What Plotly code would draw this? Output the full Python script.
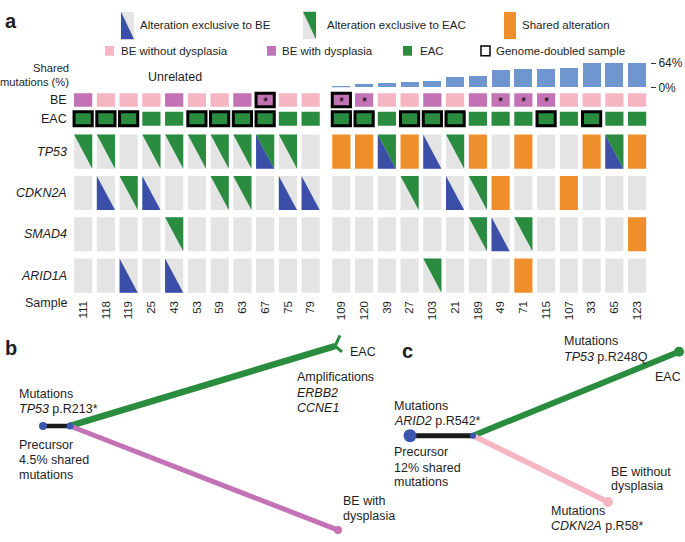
import plotly.graph_objects as go

W, H = 685, 542

# ---------------- data ----------------
samples_unrelated = ["111", "118", "119", "25", "43", "53", "59", "63", "67", "75", "79"]
samples_related = ["109", "120", "39", "27", "103", "21", "189", "49", "71", "115", "107", "33", "65", "123"]
shared_pct_related = [4.5, 10, 12, 15, 17, 27, 29, 46, 47, 49, 52, 64, 64, 64]

# BE type: D = with dysplasia, N = without dysplasia
be_type = ["D", "N", "N", "N", "D", "N", "N", "D", "D", "N", "N",
           "D", "D", "N", "N", "D", "N", "D", "D", "D", "D", "N", "N", "N", "N"]
be_star = ["67", "109", "120", "49", "71", "115"]
be_doubled = ["67", "109"]
eac_doubled = ["111", "118", "119", "53", "59", "63", "67",
               "109", "120", "27", "103", "21", "115", "33"]

genes = ["TP53", "CDKN2A", "SMAD4", "ARID1A"]
# E = exclusive to EAC, B = exclusive to BE, X = both exclusive, S = shared, "" = none
tp53 = ["E", "E", "", "E", "E", "E", "E", "E", "X", "E", "",
        "S", "S", "X", "S", "B", "E", "S", "", "S", "", "", "S", "X", "S"]
cdkn2a = ["", "B", "E", "B", "", "", "E", "E", "", "B", "B",
          "", "", "", "E", "", "B", "E", "S", "", "", "S", "", "", ""]
smad4 = ["", "", "", "", "E", "", "", "", "", "", "",
         "", "", "", "", "", "", "E", "B", "E", "", "", "", "", "S"]
arid1a = ["", "", "B", "", "B", "", "", "", "", "", "",
          "", "", "", "", "E", "", "", "", "S", "", "", "", "", ""]
gene_calls = [tp53, cdkn2a, smad4, arid1a]

# phylogenetic trees (arbitrary units 0-100)
tree_b_x = [10.75, 17.5, 83.75, 84.5]   # root, split, EAC, BE
tree_b_y = [52.8, 52.8, 91.5, 2.4]
tree_b_twig_x = [85.0, 83.75, 85.5]
tree_b_twig_y = [96.7, 91.5, 88.7]
tree_c_x = [8.33, 29.33, 98.0, 74.33]  # root, split, EAC, BE
tree_c_y = [48.1, 48.1, 88.7, 16.0]

# ---------------- styling ----------------
PINK = "#f5b5c3"
PURPLE = "#c372b5"
GREEN = "#2a8c3f"
BLUE = "#3b4fa8"
ORANGE = "#ef8f2b"
GRAY = "#e4e4e4"
BARBLUE = "#7096d0"
TXT = "#1e1e1e"
FONT = "Liberation Sans"

def px(x):
    return x / W

def py(y):
    return 1 - y / H

samples = samples_unrelated + samples_related
gap = 0.35
slots = [i for i in range(len(samples_unrelated))] + \
        [len(samples_unrelated) + gap + j for j in range(len(samples_related))]
hw = 0.4

# row geometry (pixel units on main y axis)
be_row = (88.5, 102.5)
eac_row = (107.5, 122)
gene_top, gene_h, gene_pitch = 131, 35, 42.4

shapes = []
annos = []

def rect(x0, x1, y0, y1, color, line=None):
    d = dict(type="rect", xref="x", yref="y", x0=x0, x1=x1, y0=y0, y1=y1,
             fillcolor=color, layer="above")
    d["line"] = line if line else dict(width=0)
    shapes.append(d)

def tri(pts, color, xref="x", yref="y"):
    path = "M " + " L ".join(f"{a},{b}" for a, b in pts) + " Z"
    shapes.append(dict(type="path", path=path, xref=xref, yref=yref,
                       fillcolor=color, line=dict(width=0), layer="above"))

for i, s in enumerate(samples):
    xc = slots[i]
    x0, x1 = xc - hw, xc + hw
    # BE row
    col = PURPLE if be_type[i] == "D" else PINK
    if s in be_doubled:
        rect(x0, x1, be_row[0], be_row[1], col, dict(color="black", width=3))
    else:
        rect(x0, x1, be_row[0], be_row[1], col)
    if s in be_star:
        annos.append(dict(x=xc, y=(be_row[0] + be_row[1]) / 2 + 1.5, xref="x", yref="y",
                          text="*", showarrow=False, font=dict(size=13, color="black", family=FONT)))
    # EAC row
    if s in eac_doubled:
        rect(x0, x1, eac_row[0], eac_row[1], GREEN, dict(color="black", width=3))
    else:
        rect(x0, x1, eac_row[0], eac_row[1], GREEN)
    # gene rows
    for g, calls in enumerate(gene_calls):
        y0 = gene_top + g * gene_pitch
        y1 = y0 + gene_h
        c = calls[i]
        if c == "S":
            rect(x0, x1, y0, y1, ORANGE)
            continue
        rect(x0, x1, y0, y1, GRAY)
        if c in ("B", "X"):
            tri([(x0, y0), (x0, y1), (x1, y1)], BLUE)
        if c in ("E", "X"):
            tri([(x0, y0), (x1, y0), (x1, y1)], GREEN)

fig = go.Figure()

# shared mutation bars
fig.add_trace(go.Bar(x=slots[len(samples_unrelated):], y=shared_pct_related,
                     width=2 * hw, marker=dict(color=BARBLUE, line=dict(width=0)),
                     xaxis="x", yaxis="y2", showlegend=False, hoverinfo="skip"))

# invisible trace to anchor main axes
fig.add_trace(go.Scatter(x=slots, y=[0] * len(slots), mode="markers",
                         marker=dict(opacity=0), xaxis="x", yaxis="y",
                         showlegend=False, hoverinfo="skip"))

def line_trace(xs, ys, color, width, xa, ya):
    fig.add_trace(go.Scatter(x=xs, y=ys, mode="lines", line=dict(color=color, width=width),
                             xaxis=xa, yaxis=ya, showlegend=False, hoverinfo="skip"))

def dot_trace(x, y, color, size, xa, ya):
    fig.add_trace(go.Scatter(x=[x], y=[y], mode="markers",
                             marker=dict(color=color, size=size, line=dict(width=0)),
                             xaxis=xa, yaxis=ya, showlegend=False, hoverinfo="skip"))

# ---- tree b ----
line_trace([tree_b_x[1], tree_b_x[2]], [tree_b_y[1], tree_b_y[2]], GREEN, 6.5, "x3", "y3")
line_trace(tree_b_twig_x, tree_b_twig_y, GREEN, 3, "x3", "y3")
line_trace([tree_b_x[1], tree_b_x[3]], [tree_b_y[1], tree_b_y[3]], PURPLE, 5, "x3", "y3")
line_trace([tree_b_x[0], tree_b_x[1]], [tree_b_y[0], tree_b_y[1]], "#1a1a1a", 4.5, "x3", "y3")
dot_trace(tree_b_x[0], tree_b_y[0], "#3a55b0", 8, "x3", "y3")
dot_trace(tree_b_x[1], tree_b_y[1], "#3a55b0", 7, "x3", "y3")
dot_trace(tree_b_x[3], tree_b_y[3], PURPLE, 8, "x3", "y3")

# ---- tree c ----
line_trace([tree_c_x[1], tree_c_x[2]], [tree_c_y[1], tree_c_y[2]], GREEN, 6, "x4", "y4")
line_trace([tree_c_x[1], tree_c_x[3]], [tree_c_y[1], tree_c_y[3]], PINK, 5.5, "x4", "y4")
line_trace([tree_c_x[0], tree_c_x[1]], [tree_c_y[0], tree_c_y[1]], "#1a1a1a", 5, "x4", "y4")
dot_trace(tree_c_x[0], tree_c_y[0], "#3a55b0", 13, "x4", "y4")
dot_trace(tree_c_x[1], tree_c_y[1], "#3a55b0", 6, "x4", "y4")
dot_trace(tree_c_x[2], tree_c_y[2], GREEN, 10, "x4", "y4")
dot_trace(tree_c_x[3], tree_c_y[3], PINK, 10, "x4", "y4")

# ---------------- legend (panel a) ----------------
def ptri(pts, color):
    path = "M " + " L ".join(f"{px(a)},{py(b)}" for a, b in pts) + " Z"
    shapes.append(dict(type="path", path=path, xref="paper", yref="paper",
                       fillcolor=color, line=dict(width=0)))

def prect(x0, x1, y0, y1, color, line=None):
    shapes.append(dict(type="rect", xref="paper", yref="paper", x0=px(x0), x1=px(x1),
                       y0=py(y1), y1=py(y0), fillcolor=color,
                       line=line if line else dict(width=0)))

# row 1
prect(121, 134, 5, 33, GRAY)
ptri([(121, 5), (121, 33), (134, 33)], BLUE)
prect(303, 316, 5, 33, GRAY)
ptri([(303, 5), (316, 5), (316, 33)], GREEN)
prect(504, 516, 5, 33, ORANGE)
# row 2
prect(105, 114, 40, 50, PINK)
prect(267, 276, 40, 50, PURPLE)
prect(403, 412, 40, 50, GREEN)
prect(481, 490, 40, 50, "white", dict(color="black", width=1.5))

def txt(x, y, text, size=12, anchor="left", bold=False, yanchor="middle"):
    if bold:
        text = f"<b>{text}</b>"
    annos.append(dict(x=px(x), y=py(y), xref="paper", yref="paper", text=text,
                      showarrow=False, xanchor=anchor, yanchor=yanchor,
                      font=dict(size=size, color=TXT, family=FONT)))

txt(138, 18, "Alteration exclusive to BE", 11.5)
txt(325, 18, "Alteration exclusive to EAC", 11.5)
txt(520, 18, "Shared alteration", 11.5)
txt(119, 45, "BE without dysplasia", 11.5)
txt(280, 45, "BE with dysplasia", 11.5)
txt(418, 45, "EAC", 11.5)
txt(494, 45, "Genome-doubled sample", 11.5)

txt(3, 14, "a", 20, bold=True)
txt(71, 63, "Shared", 11.2, anchor="right")
txt(71, 77, "mutations (%)", 11.2, anchor="right")
txt(175, 72, "Unrelated", 12.5, anchor="center")
txt(69, 95.5, "BE", 12.5, anchor="right")
txt(69, 115, "EAC", 12.5, anchor="right")
for g, name in enumerate(genes):
    txt(69, gene_top + g * gene_pitch + gene_h / 2, f"<i>{name}</i>", 12.5, anchor="right")
txt(69, 304, "Sample", 12.5, anchor="right")

# panel b text
txt(3, 350, "b", 20, bold=True)
txt(17, 397, "Mutations", 12.5)
txt(17, 413, "<i>TP53</i> p.R213*", 12.5)
txt(17, 450, "Precursor", 12.5)
txt(17, 465, "4.5% shared", 12.5)
txt(17, 480, "mutations", 12.5)
txt(348, 354, "EAC", 12.5)
txt(295, 380, "Amplifications", 12.5)
txt(295, 396, "<i>ERBB2</i>", 12.5)
txt(295, 412, "<i>CCNE1</i>", 12.5)
txt(341, 507, "BE with", 12.5)
txt(341, 522, "dysplasia", 12.5)

# panel c text
txt(400, 353, "c", 20, bold=True)
txt(392, 410, "Mutations", 12.5)
txt(392, 425, "<i>ARID2</i> p.R542*", 12.5)
txt(392, 457, "Precursor", 12.5)
txt(392, 473, "12% shared", 12.5)
txt(392, 488, "mutations", 12.5)
txt(562, 343, "Mutations", 12.5)
txt(562, 359, "<i>TP53</i> p.R248Q", 12.5)
txt(653, 380, "EAC", 12.5)
txt(609, 477, "BE without", 12.5)
txt(609, 492, "dysplasia", 12.5)
txt(549, 517, "Mutations", 12.5)
txt(549, 533, "<i>CDKN2A</i> p.R58*", 12.5)

x0r = -(83.15 / 22.75)
x1r = x0r + W / 22.75
hidden = dict(visible=False, showgrid=False, zeroline=False, fixedrange=True)

fig.update_layout(
    width=W, height=H, margin=dict(l=0, r=0, t=0, b=0),
    paper_bgcolor="white", plot_bgcolor="rgba(0,0,0,0)",
    font=dict(family=FONT, color=TXT),
    showlegend=False, bargap=0,
    shapes=shapes, annotations=annos,
    xaxis=dict(domain=[0, 1], range=[x0r, x1r], tickmode="array", tickvals=slots,
               ticktext=samples, tickangle=-90, ticks="outside", ticklen=2,
               tickcolor="rgba(0,0,0,0)", showgrid=False, zeroline=False, showline=False,
               tickfont=dict(size=11.5, color=TXT, family=FONT), anchor="y"),
    yaxis=dict(domain=[py(294), 1], range=[294, 0], **hidden),
    yaxis2=dict(domain=[py(82.5), py(57.5)], range=[0, 64], anchor="free",
                position=px(650), side="right", tickmode="array", tickvals=[0, 64],
                ticktext=["0%", "64%"], ticks="outside", ticklen=5, tickwidth=1.2,
                tickcolor="#333", showgrid=False, zeroline=False, showline=False,
                tickfont=dict(size=12, color=TXT, family=FONT), fixedrange=True),
    xaxis3=dict(domain=[0, px(400)], range=[0, 100], anchor="y3", **hidden),
    yaxis3=dict(domain=[0, 212 / H], range=[0, 100], anchor="x3", **hidden),
    xaxis4=dict(domain=[px(385), 1], range=[0, 100], anchor="y4", **hidden),
    yaxis4=dict(domain=[0, 212 / H], range=[0, 100], anchor="x4", **hidden),
)

fig.write_html("out.html", config={"displayModeBar": False},
               post_script="document.body.style.margin='0';document.body.style.overflow='hidden';")
